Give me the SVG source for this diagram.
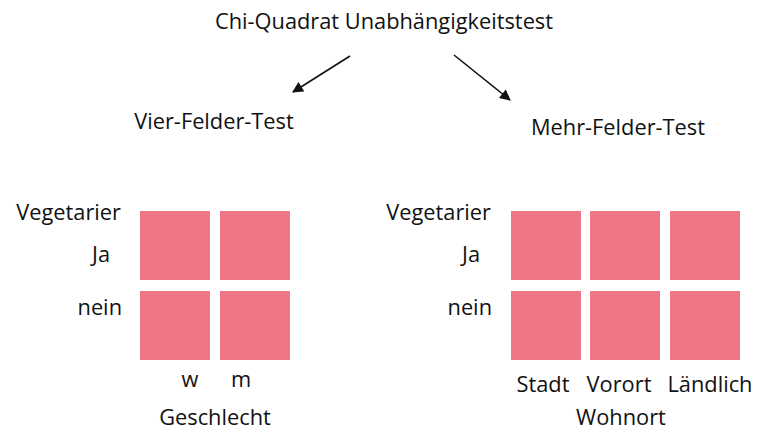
<svg xmlns="http://www.w3.org/2000/svg" width="768" height="446" viewBox="0 0 768 446">
<defs>
<style>
text{font-family:"Open Sans","Noto Sans",sans-serif;font-size:21.8px;fill:#111}
.m{text-anchor:middle}
.e{text-anchor:end}
.cell{fill:#EE7686}
.arr{stroke:#111;stroke-width:1.6;fill:none;marker-end:url(#ah)}
</style>
<marker id="ah" viewBox="0 0 10 10" refX="9" refY="5" markerWidth="12" markerHeight="11" markerUnits="userSpaceOnUse" orient="auto"><path d="M0,0L10,5L0,10z" fill="#111"/></marker>
</defs>
<rect width="768" height="446" fill="#fff"/>
<g id="title"><text class="m" x="384" y="29">Chi-Quadrat Unabhängigkeitstest</text></g>
<g id="connectors">
<line class="arr" x1="350" y1="56" x2="293" y2="92"/>
<line class="arr" x1="454" y1="55" x2="510" y2="100"/>
</g>
<g id="vier">
<text class="m" x="214" y="129">Vier-Felder-Test</text>
<text class="e" x="121" y="220">Vegetarier</text>
<text class="e" x="110" y="262">Ja</text>
<text class="e" x="122" y="315">nein</text>
<rect class="cell" x="140" y="211" width="70" height="69"/>
<rect class="cell" x="220" y="211" width="70" height="69"/>
<rect class="cell" x="140" y="291" width="70" height="69"/>
<rect class="cell" x="220" y="291" width="70" height="69"/>
<text class="m" x="190" y="387">w</text>
<text class="m" x="241" y="387">m</text>
<text class="m" x="215" y="425">Geschlecht</text>
</g>
<g id="mehr">
<text class="m" x="618" y="135">Mehr-Felder-Test</text>
<text class="e" x="491" y="220">Vegetarier</text>
<text class="e" x="480" y="262">Ja</text>
<text class="e" x="492" y="315">nein</text>
<rect class="cell" x="511" y="211" width="70" height="69"/>
<rect class="cell" x="590" y="211" width="70" height="69"/>
<rect class="cell" x="670" y="211" width="70" height="69"/>
<rect class="cell" x="511" y="291" width="70" height="69"/>
<rect class="cell" x="590" y="291" width="70" height="69"/>
<rect class="cell" x="670" y="291" width="70" height="69"/>
<text class="m" x="543" y="392">Stadt</text>
<text class="m" x="619" y="392">Vorort</text>
<text class="m" x="710" y="392">Ländlich</text>
<text class="m" x="621" y="425">Wohnort</text>
</g>
</svg>
